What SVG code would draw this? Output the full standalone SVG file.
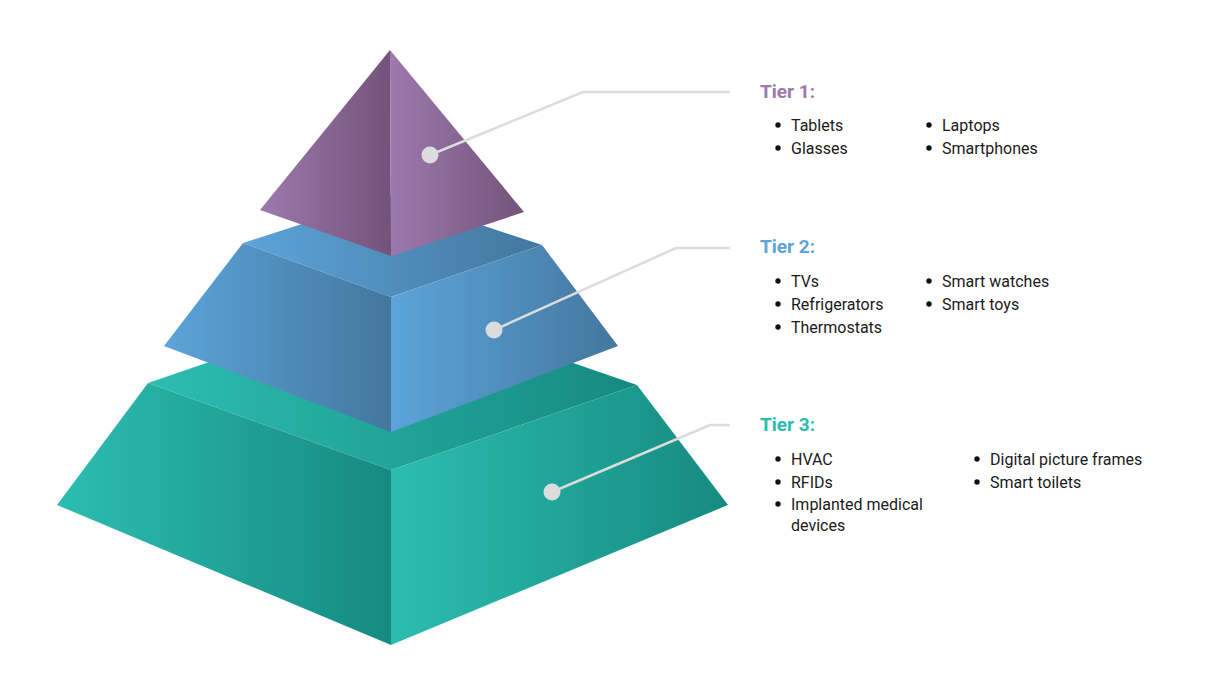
<svg xmlns="http://www.w3.org/2000/svg" width="1223" height="697" viewBox="0 0 1223 697">
<defs>
<linearGradient id="pu" x1="0" x2="1" y1="0" y2="0"><stop offset="0" stop-color="#9d7aad"/><stop offset="1" stop-color="#73527a"/></linearGradient>
<linearGradient id="bl" x1="0" x2="1" y1="0" y2="0"><stop offset="0" stop-color="#5ca4da"/><stop offset="1" stop-color="#43779e"/></linearGradient>
<linearGradient id="te" x1="0" x2="1" y1="0" y2="0"><stop offset="0" stop-color="#2cbdb1"/><stop offset="1" stop-color="#168a80"/></linearGradient>
</defs>
<style>
.c{fill:none;stroke:#dcdcdc;stroke-width:2.5}
.d{fill:#dcdcdc}
.h{font-family:Roboto,"Liberation Sans",sans-serif;font-weight:bold;font-size:19px}
.t{font-family:Roboto,"Liberation Sans",sans-serif;font-size:16px;fill:#1a1a1a}
.b{fill:#111}
</style>
<g id="tier3">
<polygon points="148,383 391,300 637,385 391,470" fill="url(#te)"/>
<polygon points="148,383 391,470 391,645 57,505" fill="url(#te)"/>
<polygon points="391,470 637,385 728,505 391,645" fill="url(#te)"/>
</g>
<g id="tier2">
<polygon points="243,243 391,195 542,245 391,297" fill="url(#bl)"/>
<polygon points="243,243 391,297 391,432 164,346" fill="url(#bl)"/>
<polygon points="391,297 542,245 618,346 391,432" fill="url(#bl)"/>
</g>
<g id="tier1">
<polygon points="390,50 391,256 260,210" fill="url(#pu)"/>
<polygon points="390,50 524,212 391,256" fill="url(#pu)"/>
</g>
<g id="connectors">
<polyline class="c" points="430,155 583,92 730,92"/>
<circle class="d" cx="430" cy="155" r="8.5"/>
<polyline class="c" points="494,330 676,248 730,248"/>
<circle class="d" cx="494" cy="330" r="8.5"/>
<polyline class="c" points="552,492 710,425 730,425"/>
<circle class="d" cx="552" cy="492" r="8.5"/>
</g>
<g id="label1">
<text class="h" x="760" y="98" fill="#9c78ab">Tier 1:</text>
<circle class="b" cx="778" cy="125" r="2.7"/><text class="t" x="791" y="131">Tablets</text>
<circle class="b" cx="778" cy="148" r="2.7"/><text class="t" x="791" y="154">Glasses</text>
<circle class="b" cx="929" cy="125" r="2.7"/><text class="t" x="942" y="131">Laptops</text>
<circle class="b" cx="929" cy="148" r="2.7"/><text class="t" x="942" y="154">Smartphones</text>
</g>
<g id="label2">
<text class="h" x="760" y="253" fill="#5ba3d8">Tier 2:</text>
<circle class="b" cx="778" cy="281" r="2.7"/><text class="t" x="791" y="287">TVs</text>
<circle class="b" cx="778" cy="304" r="2.7"/><text class="t" x="791" y="310">Refrigerators</text>
<circle class="b" cx="778" cy="327" r="2.7"/><text class="t" x="791" y="333">Thermostats</text>
<circle class="b" cx="929" cy="281" r="2.7"/><text class="t" x="942" y="287">Smart watches</text>
<circle class="b" cx="929" cy="304" r="2.7"/><text class="t" x="942" y="310">Smart toys</text>
</g>
<g id="label3">
<text class="h" x="760" y="431" fill="#2bbcb0">Tier 3:</text>
<circle class="b" cx="778" cy="459" r="2.7"/><text class="t" x="791" y="465">HVAC</text>
<circle class="b" cx="778" cy="482" r="2.7"/><text class="t" x="791" y="488">RFIDs</text>
<circle class="b" cx="778" cy="504" r="2.7"/><text class="t" x="791" y="510">Implanted medical</text>
<text class="t" x="791" y="531">devices</text>
<circle class="b" cx="977" cy="459" r="2.7"/><text class="t" x="990" y="465">Digital picture frames</text>
<circle class="b" cx="977" cy="482" r="2.7"/><text class="t" x="990" y="488">Smart toilets</text>
</g>
</svg>
